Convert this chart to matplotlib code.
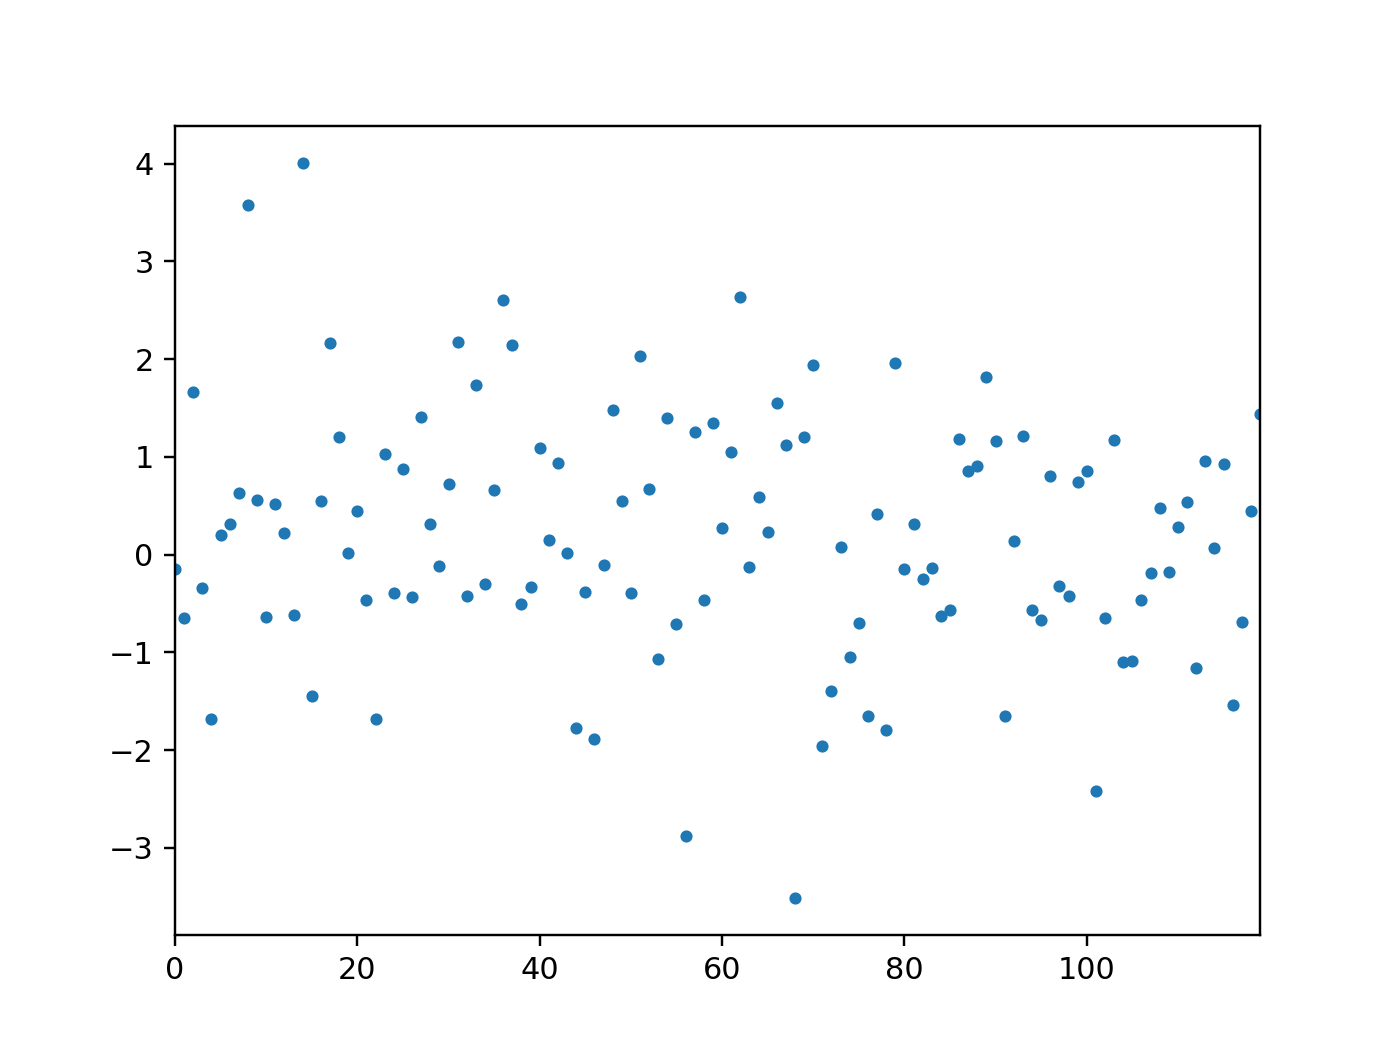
import numpy as np
import matplotlib
matplotlib.use("Agg")
import matplotlib.pyplot as plt

values = [
    -0.15, -0.65, 1.66, -0.34, -1.68, 0.20, 0.31, 0.63, 3.58, 0.56,
    -0.64, 0.52, 0.22, -0.62, 4.01, -1.45, 0.55, 2.17, 1.20, 0.02,
    0.45, -0.46, -1.68, 1.03, -0.39, 0.88, -0.43, 1.41, 0.31, -0.12,
    0.72, 2.18, -0.42, 1.74, -0.30, 0.66, 2.61, 2.15, -0.50, -0.33,
    1.09, 0.15, 0.94, 0.02, -1.77, -0.38, -1.89, -0.11, 1.48, 0.55,
    -0.39, 2.03, 0.67, -1.07, 1.40, -0.71, -2.88, 1.26, -0.46, 1.35,
    0.27, 1.05, 2.64, -0.13, 0.59, 0.23, 1.55, 1.12, -3.51, 1.20,
    1.94, -1.96, -1.39, 0.08, -1.05, -0.70, -1.65, 0.42, -1.79, 1.96,
    -0.15, 0.31, -0.25, -0.14, -0.63, -0.57, 1.18, 0.86, 0.91, 1.82,
    1.16, -1.65, 0.14, 1.21, -0.57, -0.67, 0.81, -0.32, -0.42, 0.74,
    0.86, -2.42, -0.65, 1.17, -1.10, -1.09, -0.46, -0.19, 0.48, -0.18,
    0.28, 0.54, -1.16, 0.96, 0.07, 0.93, -1.54, -0.69, 0.45, 1.44,
]
idx = np.arange(len(values))

fig = plt.figure(figsize=(6.4, 4.8), dpi=218.75)
plt.scatter(idx, values, s=9)
plt.xlim(0, len(values) - 1)
plt.savefig("out.png")
